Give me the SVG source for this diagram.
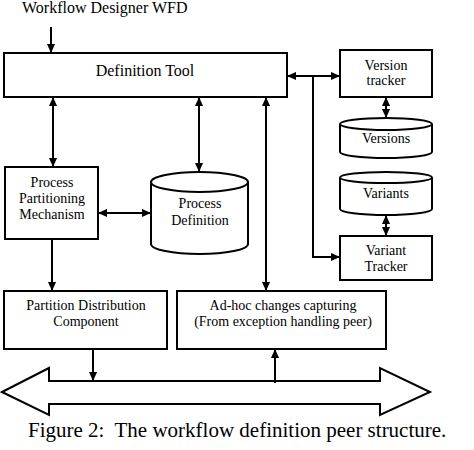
<svg xmlns="http://www.w3.org/2000/svg" width="474" height="450" viewBox="0 0 474 450" font-family="Liberation Serif, Times New Roman, serif">
<style>
text{font-family:Liberation Serif, Times New Roman, serif}
.box{fill:#fff;stroke:#000;stroke-width:2}
.cyl{fill:#fff;stroke:#000;stroke-width:2}
.t{font-size:14px;fill:#000;text-anchor:middle}
.c{fill:none;stroke:#000;stroke-width:2}
</style>
<defs>
<marker id="ah" viewBox="0 0 10 10" refX="10" refY="5" markerWidth="9" markerHeight="9" markerUnits="userSpaceOnUse" orient="auto-start-reverse">
<path d="M0,0.5 L10,5 L0,9.5 z" fill="#000"/>
</marker>
</defs>
<rect width="474" height="450" fill="#fff"/>
<text x="22" y="13" font-family="Liberation Serif, serif" font-size="16">Workflow Designer WFD</text>

<g id="definition-tool">
<rect class="box" x="4" y="53" width="283" height="44"/>
<text class="t" x="145" y="76" font-family="Liberation Serif, serif" style="font-size:16px">Definition Tool</text>
</g>
<g id="version-tracker">
<rect class="box" x="340" y="50" width="92" height="47"/>
<text class="t" x="386" y="70" font-family="Liberation Serif, serif">Version</text>
<text class="t" x="386" y="85" font-family="Liberation Serif, serif">tracker</text>
</g>
<g id="versions">
<path class="cyl" d="M340,124 L340,152 A46,6 0 0 0 432,152 L432,124 A46,6 0 0 0 340,124 A46,6 0 0 0 432,124"/>
<text class="t" x="386" y="143" font-family="Liberation Serif, serif">Versions</text>
</g>
<g id="variants">
<path class="cyl" d="M340,177.5 L340,209 A46,6 0 0 0 432,209 L432,177.5 A46,5.5 0 0 0 340,177.5 A46,5.5 0 0 0 432,177.5"/>
<text class="t" x="386" y="198" font-family="Liberation Serif, serif">Variants</text>
</g>
<g id="variant-tracker">
<rect class="box" x="340" y="236" width="92" height="44"/>
<text class="t" x="386" y="255" font-family="Liberation Serif, serif">Variant</text>
<text class="t" x="386" y="271" font-family="Liberation Serif, serif">Tracker</text>
</g>
<g id="process-partitioning">
<rect class="box" x="5" y="167" width="93" height="72"/>
<text class="t" x="52" y="187" font-family="Liberation Serif, serif">Process</text>
<text class="t" x="52" y="203" font-family="Liberation Serif, serif">Partitioning</text>
<text class="t" x="52" y="219" font-family="Liberation Serif, serif">Mechanism</text>
</g>
<g id="process-definition">
<path class="cyl" d="M151,182 L151,244 A48.5,10 0 0 0 248,244 L248,182 A48.5,10 0 0 0 151,182 A48.5,10 0 0 0 248,182"/>
<text class="t" x="200" y="208" font-family="Liberation Serif, serif">Process</text>
<text class="t" x="200" y="225" font-family="Liberation Serif, serif">Definition</text>
</g>
<g id="partition-distribution">
<rect class="box" x="4" y="291" width="163" height="58"/>
<text class="t" x="86" y="310" font-family="Liberation Serif, serif">Partition Distribution</text>
<text class="t" x="86" y="326" font-family="Liberation Serif, serif">Component</text>
</g>
<g id="adhoc-changes">
<rect class="box" x="177" y="291" width="209" height="58"/>
<text class="t" x="283" y="310" font-family="Liberation Serif, serif">Ad-hoc changes capturing</text>
<text class="t" x="283" y="326" font-family="Liberation Serif, serif">(From exception handling peer)</text>
</g>
<g id="bus">
<path d="M2,392 L49,368 L49,381 L380,381 L380,368 L430,392 L380,415 L380,404 L49,404 L49,415 Z" fill="#fff" stroke="#000" stroke-width="2" stroke-linejoin="miter"/>
</g>
<g id="connectors">
<line class="c" x1="51" y1="27" x2="51" y2="53" marker-end="url(#ah)"/>
<line class="c" x1="287" y1="76" x2="340" y2="76" marker-start="url(#ah)" marker-end="url(#ah)"/>
<polyline class="c" points="313,76 313,257 340,257" marker-end="url(#ah)"/>
<line class="c" x1="386" y1="97" x2="386" y2="118" marker-start="url(#ah)" marker-end="url(#ah)"/>
<line class="c" x1="386" y1="215" x2="386" y2="236" marker-start="url(#ah)" marker-end="url(#ah)"/>
<line class="c" x1="53" y1="97" x2="53" y2="167" marker-start="url(#ah)" marker-end="url(#ah)"/>
<line class="c" x1="199" y1="97" x2="199" y2="172" marker-start="url(#ah)" marker-end="url(#ah)"/>
<line class="c" x1="266" y1="97" x2="266" y2="291" marker-start="url(#ah)" marker-end="url(#ah)"/>
<line class="c" x1="98" y1="213" x2="151" y2="213" marker-start="url(#ah)" marker-end="url(#ah)"/>
<line class="c" x1="52" y1="239" x2="52" y2="291" marker-end="url(#ah)"/>
<line class="c" x1="93" y1="349" x2="93" y2="381" marker-end="url(#ah)"/>
<line class="c" x1="275" y1="383" x2="275" y2="349" marker-end="url(#ah)"/>
</g>
<text x="28" y="437" xml:space="preserve" font-family="Liberation Serif, serif" font-size="21">Figure 2:  The workflow definition peer structure.</text>
</svg>
